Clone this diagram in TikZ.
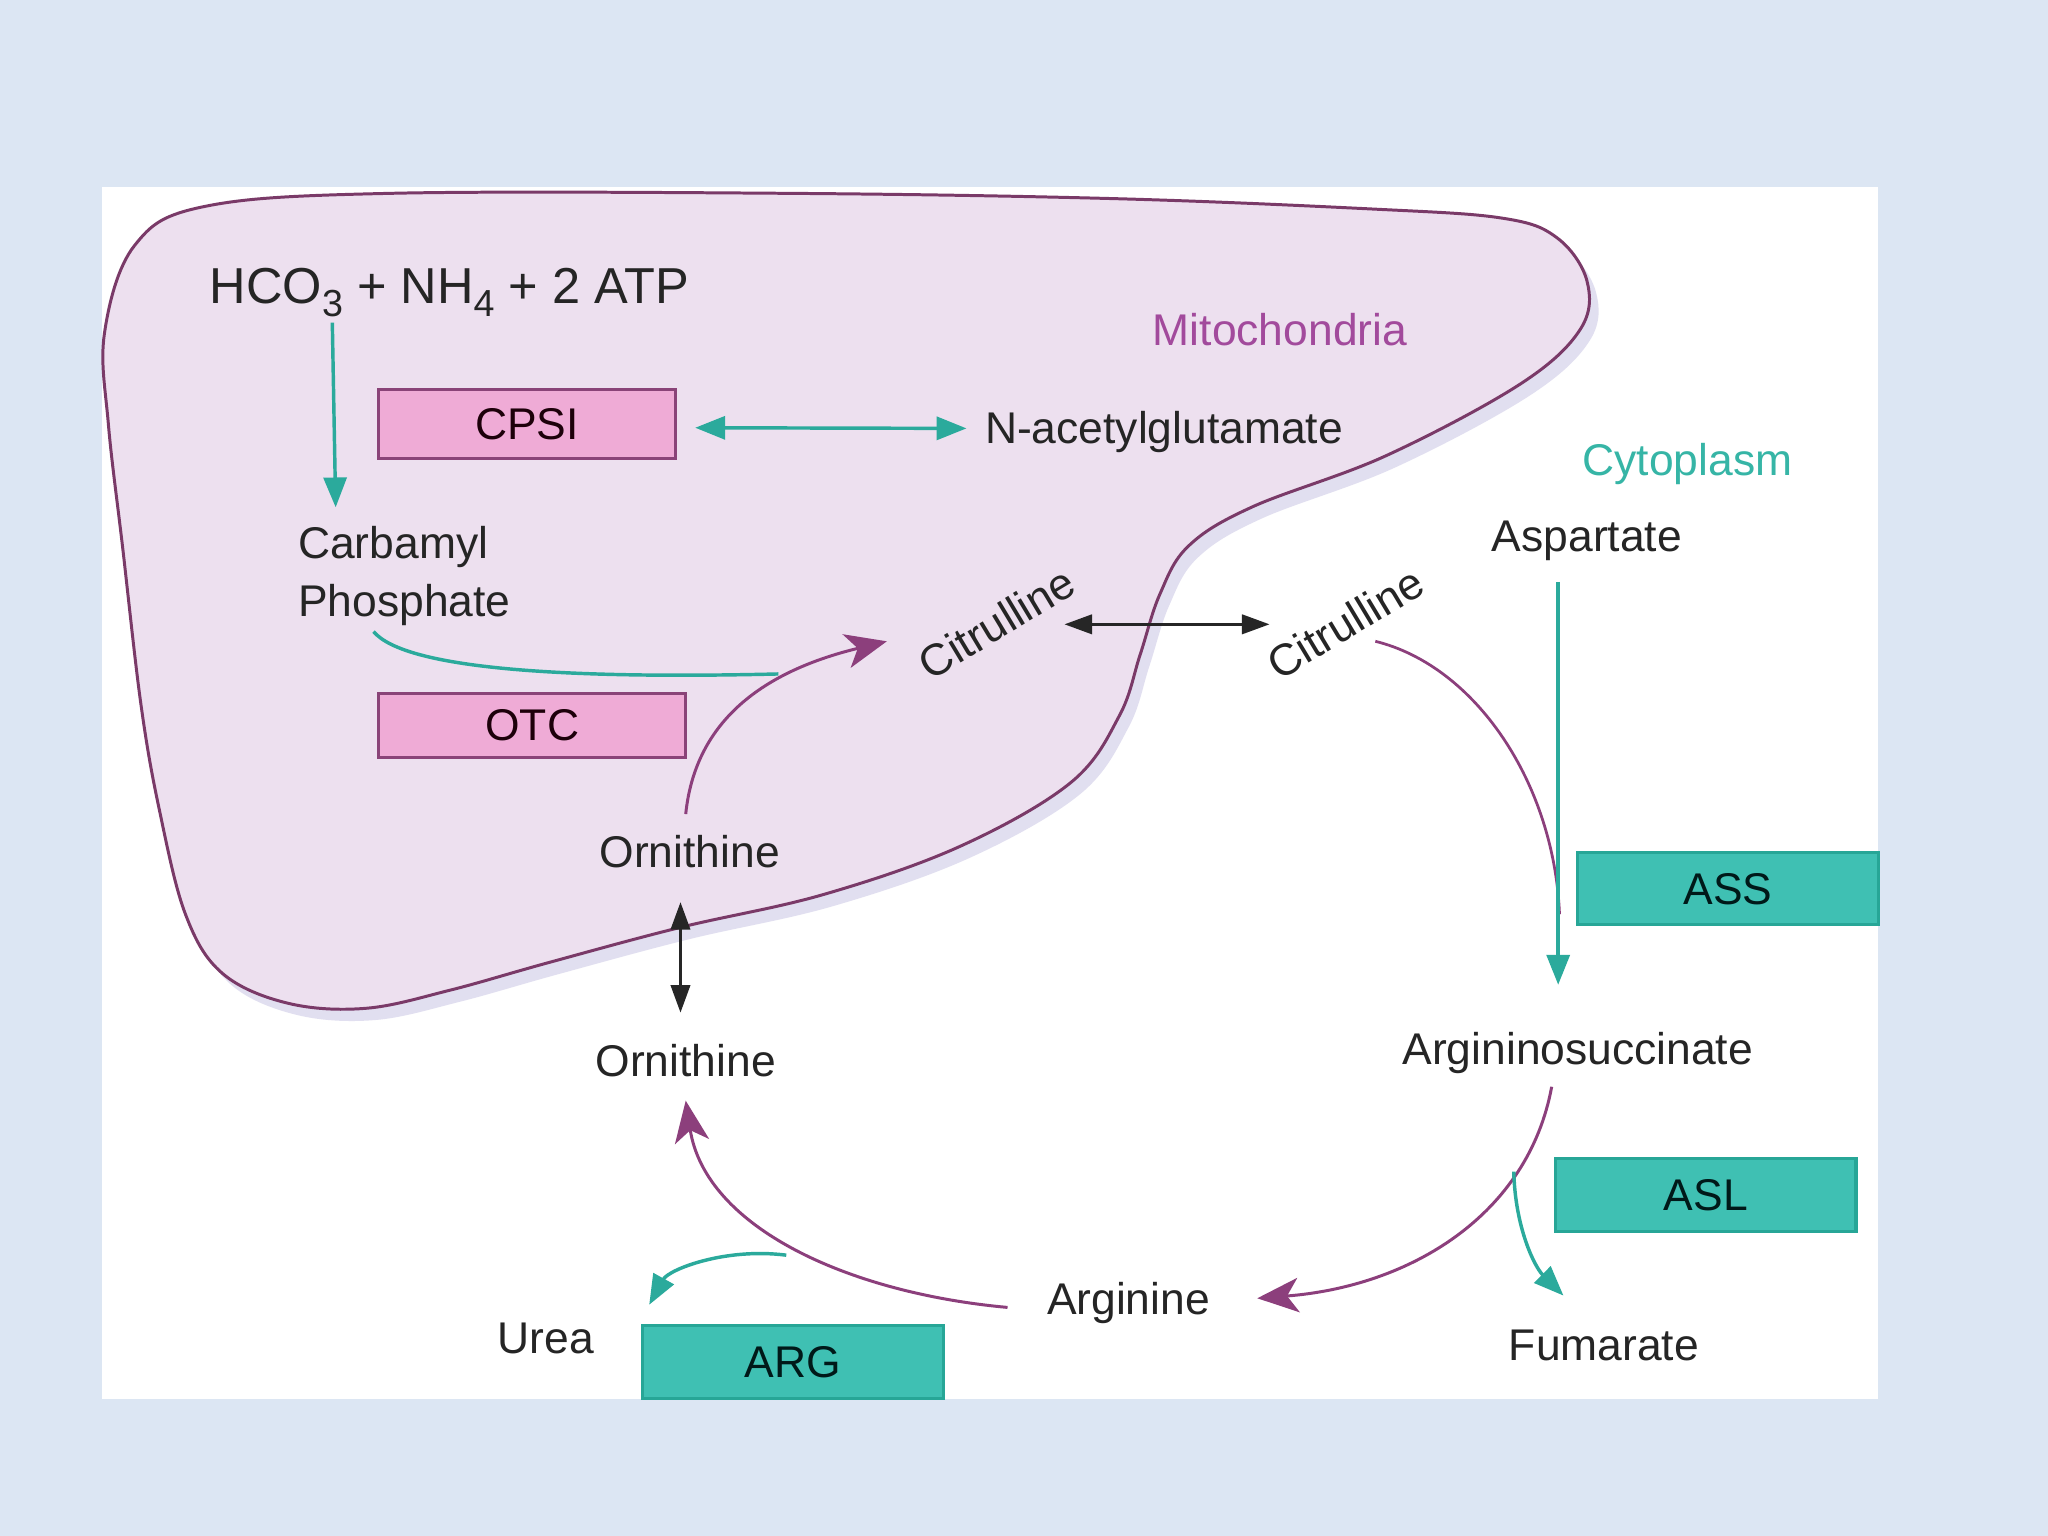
\documentclass[tikz,border=0pt]{standalone}
\usepackage{fontspec}
\setmainfont{Liberation Sans}
\usetikzlibrary{arrows.meta,calc}
\definecolor{bgblue}{HTML}{DCE6F3}
\definecolor{blobfill}{HTML}{EDE0EF}
\definecolor{blobshadow}{HTML}{E1DFF0}
\definecolor{blobline}{HTML}{7A3A68}
\definecolor{pinkfill}{HTML}{EFABD6}
\definecolor{pinkline}{HTML}{8A4378}
\definecolor{tealfill}{HTML}{3FC0B3}
\definecolor{tealline}{HTML}{27A697}
\definecolor{tealarr}{HTML}{2BAA9C}
\definecolor{purparr}{HTML}{8C3F7C}
\definecolor{mitotext}{HTML}{A24A9C}
\definecolor{cytotext}{HTML}{36B5A6}
\definecolor{txt}{HTML}{252525}
\tikzset{
  lbl/.style={inner sep=1pt, text=txt, font=\fontsize{9.67}{12.8}\selectfont},
  pinkbox/.style={draw=pinkline, fill=pinkfill, line width=0.7pt, inner sep=0pt,
     font=\fontsize{9.67}{12.8}\selectfont, text=black!85!purple},
  tealbox/.style={draw=tealline, fill=tealfill, line width=0.7pt, inner sep=0pt,
     font=\fontsize{9.67}{12.8}\selectfont, text=black!80!teal},
  tarrow/.style={draw=tealarr, line width=0.75pt, -{Triangle[length=6.5pt,width=5pt]}},
  tdarrow/.style={draw=tealarr, line width=0.75pt, {Triangle[length=6.5pt,width=5pt]}-{Triangle[length=6.5pt,width=5pt]}},
  tline/.style={draw=tealarr, line width=0.75pt},
  parrow/.style={draw=purparr, line width=0.65pt, -{Stealth[length=9pt,width=7.5pt,inset=2.5pt]}},
  pline/.style={draw=purparr, line width=0.6pt},
  bdarrow/.style={draw=black!85, line width=0.65pt, {Triangle[length=6pt,width=4.2pt]}-{Triangle[length=6pt,width=4.2pt]}},
}
\begin{document}
\begin{tikzpicture}[x=0.01cm,y=-0.01cm]
% background and panel
\fill[bgblue] (0,0) rectangle (1568,1176);
\useasboundingbox (0,0) rectangle (1568,1176);
\fill[white] (78,143) rectangle (1438,1071);
% mitochondrion shadow + body
\def\blobpath{(80,255) (103,188) (157,158) (300,148) (600,148) (850,152) (1050,160) (1150,167) (1192,182) (1215,215) (1210,252) (1164,294) (1061,349) (959,388) (910,418) (888,455) (873,501) (857,548) (820,599) (735,648) (630,685) (521,710) (420,737) (345,758) (280,772) (220,768) (170,745) (142,700) (122,620) (108,540) (94,420) (83,325)}
\fill[blobshadow, shift={(7,9)}] plot[smooth cycle, tension=0.6] coordinates {\blobpath};
\draw[blobline, fill=blobfill, line width=0.65pt] plot[smooth cycle, tension=0.6] coordinates {\blobpath};

% labels
\node[lbl, text=mitotext] (mito) at (980,252) {Mitochondria};
\node[lbl, text=cytotext] (cyto) at (1292,355) {Cytoplasm};
\node[lbl, font=\fontsize{11}{13}\selectfont] (hco) at (344,224)
  {HCO\raisebox{-0.5ex}{\fontsize{8.2}{8}\selectfont 3} + NH\raisebox{-0.5ex}{\fontsize{8.2}{8}\selectfont 4} + 2 ATP};
\node[pinkbox, minimum width=2.27cm, minimum height=0.53cm] (cpsi) at (403.5,324.5) {CPSI};
\node[lbl, anchor=west] (nag) at (750,331) {N-acetylglutamate};
\node[lbl, anchor=west, align=left] (carb) at (224,441) {Carbamyl\\Phosphate};
\node[pinkbox, minimum width=2.35cm, minimum height=0.49cm] (otc) at (407.5,555.5) {OTC};
\node[lbl] (orn1) at (528,652) {Ornithine};
\node[lbl, rotate=31] (cit1) at (763,477) {Citrulline};
\node[lbl, rotate=31] (cit2) at (1030,477) {Citrulline};
\node[lbl] (asp) at (1215,414) {Aspartate};
\node[tealbox, minimum width=2.30cm, minimum height=0.55cm] (ass) at (1323,680.5) {ASS};
\node[lbl] (argsuc) at (1208,806) {Argininosuccinate};
\node[tealbox, minimum width=2.30cm, minimum height=0.56cm] (asl) at (1306,915) {ASL};
\node[lbl] (fum) at (1228,1030) {Fumarate};
\node[lbl] (arg) at (864,998) {Arginine};
\node[lbl] (orn2) at (525,812) {Ornithine};
\node[lbl] (urea) at (418,1025) {Urea};
\node[tealbox, minimum width=2.30cm, minimum height=0.56cm] (argbox) at (607,1043) {ARG};

% junction coordinates
\coordinate (m1) at (596,516);
\coordinate (m2) at (1194,700);
\coordinate (m3) at (1159,897);
\coordinate (m4) at (602,961);

% connectors
\draw[tarrow] ($(hco.south west)+(98,0)$) -- ($(carb.north west)+(33,-10)$);
\draw[tdarrow] ($(cpsi.east)+(14,3)$) -- ($(nag.west)+(-10,-3)$);
\draw[tline] ($(carb.south west)+(62,0)$) .. controls (310,512) and (430,520) .. (m1);
\draw[parrow] ($(orn1.north)+(-3,-12)$) .. controls (532,555) and (580,515) .. ($(cit1.center)+(-84,14)$);
\draw[bdarrow] ($(cit1.center)+(52,1)$) -- ($(cit2.center)+(-58,1)$);
\draw[pline] ($(cit2.center)+(23,14)$) .. controls (1130,510) and (1190,600) .. (m2);
\draw[tarrow] ($(asp.south)+(-22,12)$) -- ($(argsuc.north)+(-15,-32)$);
\draw[parrow] ($(argsuc.south)+(-20,6)$) .. controls (1170,930) and (1080,985) .. ($(arg.east)+(32,-4)$);
\draw[tarrow] (m3) .. controls (1160,940) and (1175,970) .. ($(fum.north)+(-31,-22)$);
\draw[parrow] ($(arg.west)+(-26,3)$) .. controls (650,990) and (540,940) .. ($(orn2.south)+(0,14)$);
\draw[tarrow] (m4) .. controls (555,955) and (512,972) .. ($(urea.north east)+(38,-10)$);
\draw[bdarrow] ($(orn1.south)+(-7,22)$) -- ($(orn2.north)+(-4,-20)$);
\end{tikzpicture}
\end{document}
